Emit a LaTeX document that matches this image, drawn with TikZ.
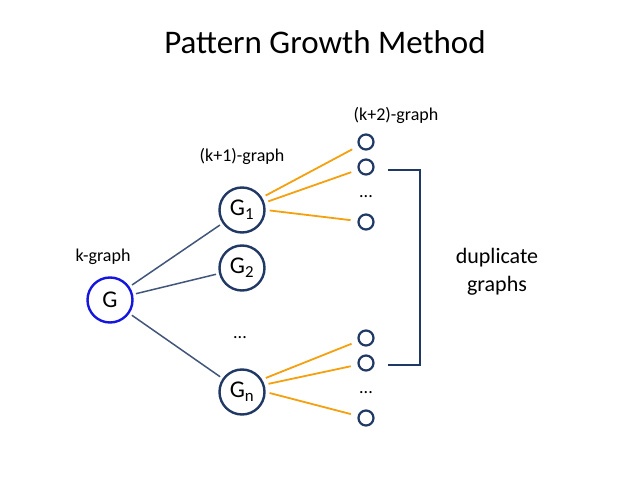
\documentclass[tikz,border=0pt]{standalone}
\usepackage{fontspec}
\setmainfont{Carlito}
\begin{document}
\begin{tikzpicture}[x=1pt,y=-1pt,
  big/.style={circle,draw=navy,line width=2.4pt,minimum size=45pt,inner sep=0pt,font=\fontsize{24}{28}\selectfont},
  small/.style={circle,draw=navy,line width=2.2pt,minimum size=15pt,inner sep=0pt},
  lbl/.style={font=\fontsize{18}{21}\selectfont},
  blue/.style={draw=navy!85!white,line width=1.5pt},
  org/.style={draw=orangeL,line width=1.8pt}]
\definecolor{navy}{HTML}{1F3864}
\definecolor{orangeL}{HTML}{F5A00F}
\definecolor{gblue}{HTML}{1515E0}
\useasboundingbox[fill=white] (0,0) rectangle (638,478);
\node[font=\fontsize{33}{38}\selectfont] (t) at (325,42) {Pattern Growth Method};
\node[big,draw=gblue] (g) at (110,300) {G};
\node[big] (g1) at (242,210) {G\textsubscript{1}};
\node[big] (g2) at (242,268) {G\textsubscript{2}};
\node[big] (gn) at (242,392) {G\textsubscript{n}};
\node[lbl] (d0) at (240,338) {...};
\node[lbl] (kg) at (103,257) {k-graph};
\node[lbl] (k1) at (242,156) {(k+1)-graph};
\node[lbl] (k2) at (396,115) {(k+2)-graph};
\node[small] (a1) at (366,142) {};
\node[small] (a2) at (366,167) {};
\node[small] (a3) at (366,222) {};
\node[lbl] (d1) at (366,197) {...};
\node[small] (b1) at (366,338) {};
\node[small] (b2) at (366,363) {};
\node[small] (b3) at (366,418) {};
\node[lbl] (d2) at (366,393) {...};
\node[align=center,font=\fontsize{22}{28}\selectfont] (dup) at (497,272) {duplicate\\graphs};
\draw[blue,shorten <=3pt,shorten >=3pt] (g) -- (g1);
\draw[blue,shorten <=3pt,shorten >=3pt] (g) -- (g2);
\draw[blue,shorten <=3pt,shorten >=3pt] (g) -- (gn);
\draw[org,shorten >=7pt,shorten <=4pt] (g1.32) -- (a1);
\draw[org,shorten >=7pt,shorten <=4pt] (g1.18) -- (a2);
\draw[org,shorten >=7pt,shorten <=4pt] (g1.0) -- (a3);
\draw[org,shorten >=7pt,shorten <=4pt] (gn.32) -- (b1);
\draw[org,shorten >=7pt,shorten <=4pt] (gn.18) -- (b2);
\draw[org,shorten >=7pt,shorten <=4pt] (gn.0) -- (b3);
\coordinate (c0) at (388,170);
\coordinate (c1) at (420,170);
\coordinate (c2) at (420,365);
\coordinate (c3) at (388,365);
\draw[navy,line width=2.6pt] (c0) -- (c1) -- (c2) -- (c3);
\end{tikzpicture}
\end{document}
